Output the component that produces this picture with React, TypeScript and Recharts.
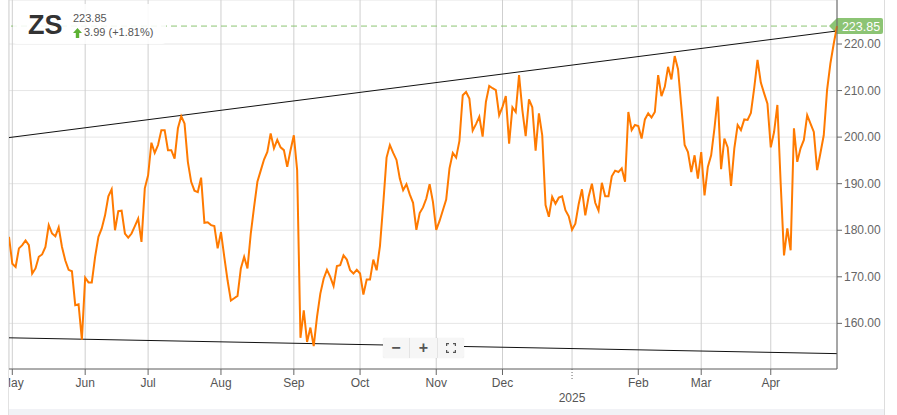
import { CartesianGrid, Line, LineChart, ReferenceLine, XAxis, YAxis } from "recharts";

const symbol = "ZS";
const lastPrice = 223.85;
const change = 3.99;
const changePct = 1.81;

// daily closes, May 2024 -> end of Apr 2025
const prices = [
  178.6, 172.8, 172.1, 176.1, 176.8, 177.8, 176.8, 170.7, 171.8, 174.3,
  174.8, 176.4, 181.1, 179.3, 178.7, 180.6, 176.4, 173.5, 171.5, 171.2,
  163.9, 164.1, 156.5, 169.8, 168.8, 168.8, 174.3, 178.6, 180.4, 183.2,
  187.3, 188.8, 180.0, 184.1, 184.2, 179.3, 178.4, 179.3, 180.9, 182.5,
  177.5, 189.0, 191.8, 198.8, 196.6, 198.3, 201.5, 201.5, 197.2, 197.2,
  195.4, 201.9, 204.5, 202.9, 194.7, 190.4, 188.5, 188.2, 191.3, 181.6,
  181.7, 181.1, 180.9, 176.1, 179.6, 174.3, 169.2, 164.9, 165.4, 165.9,
  171.8, 174.3, 171.8, 179.3, 185.0, 190.4, 192.8, 195.2, 196.8, 200.8,
  197.6, 199.4, 197.8, 197.2, 193.6, 197.2, 200.4, 192.9, 156.9, 162.8,
  156.0, 159.1, 155.1, 161.4, 166.4, 169.6, 171.5, 170.0, 168.0, 172.3,
  172.5, 174.6, 173.7, 171.4, 170.7, 171.5, 170.7, 166.2, 169.4, 169.4,
  173.7, 171.4, 176.6, 185.7, 195.6, 198.3, 196.6, 195.1, 191.1, 188.6,
  189.9, 187.7, 185.9, 180.1, 183.7, 184.9, 186.8, 189.9, 186.1, 180.1,
  182.0, 184.3, 186.6, 193.3, 196.6, 195.6, 199.2, 209.0, 209.7, 208.3,
  201.4, 202.8, 204.4, 200.1, 207.6, 211.0, 210.5, 210.1, 204.7, 206.5,
  208.8, 198.6, 206.4, 205.4, 213.3, 205.8, 200.2, 208.1, 206.4, 197.1,
  205.1, 200.4, 185.4, 182.9, 187.2, 185.7, 187.0, 187.3, 184.3, 183.0,
  180.1, 181.4, 185.6, 188.8, 183.2, 187.2, 190.0, 185.9, 184.2, 190.2,
  187.3, 187.3, 191.6, 192.8, 192.5, 193.3, 190.4, 205.4, 201.5, 202.6,
  202.4, 199.7, 203.8, 205.1, 204.2, 205.4, 213.3, 208.8, 210.8, 215.1,
  212.4, 217.4, 214.6, 206.5, 198.3, 196.8, 192.5, 196.1, 191.1, 196.8,
  187.5, 193.6, 196.1, 201.9, 208.7, 193.1, 199.7, 197.8, 189.5, 197.6,
  202.6, 201.5, 203.8, 203.7, 205.2, 210.5, 216.6, 211.7, 209.4, 207.2,
  197.8, 201.1, 206.9, 190.0, 174.6, 180.4, 175.7, 201.9, 194.7, 197.6,
  199.4, 204.7, 202.9, 201.1, 192.9, 196.6, 200.4, 210.1, 215.8, 220.0,
  223.85,
];

const monthTickIdx = [1, 23, 42, 64, 86, 106, 129, 149, 170, 190, 209, 230];
const monthLabels = ["May", "Jun", "Jul", "Aug", "Sep", "Oct", "Nov", "Dec", "", "Feb", "Mar", "Apr"];
const yearLabels = ["", "", "", "", "", "", "", "", "2025", "", "", ""];
const priceTicks = [160, 170, 180, 190, 200, 210, 220];

// channel lines: value at first and last day
const upperTrend = [199.9, 222.8];
const lowerTrend = [156.9, 153.5];

const data = prices.map((price, i) => ({ i, price }));
const lastIdx = prices.length - 1;

const FONT = '"Liberation Sans", Arial, sans-serif';

function MonthTick({ x, y, payload }: any) {
  const k = monthTickIdx.indexOf(payload.value);
  const label = monthLabels[k] ?? "";
  const year = yearLabels[k] ?? "";
  return (
    <g>
      <line
        x1={x}
        x2={x}
        y1={y - 8}
        y2={year ? y + 2 : y - 2}
        stroke="#666"
        strokeDasharray={year ? "1 2" : undefined}
      />
      {label && (
        <text x={x} y={y + 10} textAnchor="middle" fill="#555" fontSize={12} fontFamily={FONT}>
          {label}
        </text>
      )}
      {year && (
        <text x={x} y={y + 25} textAnchor="middle" fill="#555" fontSize={12} fontFamily={FONT}>
          {year}
        </text>
      )}
    </g>
  );
}

function PriceTick({ x, y, payload }: any) {
  return (
    <text x={x} y={y + 4} textAnchor="start" fill="#666" fontSize={12} fontFamily={FONT}>
      {Number(payload.value).toFixed(2)}
    </text>
  );
}

function PriceTag(props: any) {
  const vb = props.viewBox || {};
  const tip = vb.x + vb.width - 8;
  const cy = vb.y;
  const r = 2;
  const right = tip + 54;
  const d = `M${tip},${cy} L${tip + 8},${cy - 8} H${right - r} Q${right},${cy - 8} ${right},${cy - 8 + r} V${cy + 8 - r} Q${right},${cy + 8} ${right - r},${cy + 8} H${tip + 8} Z`;
  return (
    <g>
      <path d={d} fill="#8cc474" />
      <text x={tip + 32} y={cy + 4.5} textAnchor="middle" fill="#fff" fontSize={12.5} fontFamily={FONT}>
        {lastPrice.toFixed(2)}
      </text>
    </g>
  );
}

function UpArrow() {
  return (
    <svg width="9" height="10" viewBox="0 0 9 10" style={{ position: "absolute", left: 73, top: 28 }}>
      <path d="M4.5 0 L9 5 H6.2 V10 H2.8 V5 H0 Z" fill="#5cb133" />
    </svg>
  );
}

export default function App() {
  return (
    <div
      style={{
        position: "absolute",
        left: 0,
        top: 0,
        width: 897,
        height: 415,
        background: "#fff",
        fontFamily: FONT,
        overflow: "hidden",
      }}
    >
      <LineChart
        width={897}
        height={415}
        data={data}
        margin={{ top: 0, right: 10, bottom: 16, left: 9 }}
      >
        <CartesianGrid stroke="#e6e6e6" vertical={false} />
        <CartesianGrid stroke="#cfcfcf" horizontal={false} />
        <XAxis
          dataKey="i"
          type="number"
          domain={[0, lastIdx]}
          ticks={monthTickIdx}
          interval={0}
          tick={<MonthTick />}
          tickLine={false}
          tickSize={6}
          tickMargin={2}
          height={30}
          axisLine={{ stroke: "#666" }}
        />
        <YAxis
          orientation="right"
          type="number"
          domain={[150.2, 229.45]}
          ticks={priceTicks}
          tick={<PriceTick />}
          tickLine={{ stroke: "#666" }}
          tickSize={5}
          tickMargin={2}
          width={50}
          axisLine={{ stroke: "#666" }}
        />
        <ReferenceLine
          y={lastPrice}
          stroke="#8cc474"
          strokeDasharray="6 4"
          label={(p: any) => <PriceTag {...p} />}
        />
        <ReferenceLine
          segment={[
            { x: 0, y: upperTrend[0] },
            { x: lastIdx, y: upperTrend[1] },
          ]}
          stroke="#111"
          strokeWidth={1}
        />
        <ReferenceLine
          segment={[
            { x: 0, y: lowerTrend[0] },
            { x: lastIdx, y: lowerTrend[1] },
          ]}
          stroke="#111"
          strokeWidth={1}
        />
        <Line
          type="linear"
          dataKey="price"
          stroke="#ff7a00"
          strokeWidth={2}
          dot={false}
          activeDot={false}
          isAnimationActive={false}
        />
      </LineChart>

      {/* quote header */}
      <div
        style={{
          position: "absolute",
          left: 13,
          top: 4,
          width: 153,
          height: 40,
          background: "rgba(255,255,255,0.88)",
          borderRadius: 4,
        }}
      />
      <div style={{ position: "absolute", left: 0, top: 0, width: 170, height: 46 }}>
        <span
          style={{
            position: "absolute",
            left: 28,
            top: 10,
            fontSize: 27,
            fontWeight: 700,
            color: "#333",
            lineHeight: "30px",
          }}
        >
          {symbol}
        </span>
        <span style={{ position: "absolute", left: 73, top: 12, fontSize: 11, color: "#555", lineHeight: "13px" }}>
          {lastPrice.toFixed(2)}
        </span>
        <UpArrow />
        <span style={{ position: "absolute", left: 84, top: 26, fontSize: 11, color: "#555", lineHeight: "13px" }}>
          {change.toFixed(2)} (+{changePct.toFixed(2)}%)
        </span>
      </div>

      {/* zoom controls */}
      <div
        style={{
          position: "absolute",
          left: 383,
          top: 338,
          height: 20,
          display: "flex",
          background: "#f6f6f6",
          borderRadius: 2,
          boxShadow: "0 0 1px rgba(0,0,0,0.15)",
          color: "#555",
          fontSize: 16,
          fontWeight: 700,
          lineHeight: "20px",
        }}
      >
        <div style={{ width: 26, textAlign: "center" }}>−</div>
        <div style={{ width: 1, background: "#e4e4e4" }} />
        <div style={{ width: 27, textAlign: "center" }}>+</div>
        <div style={{ width: 1, background: "#e4e4e4" }} />
        <div style={{ width: 26, display: "flex", alignItems: "center", justifyContent: "center" }}>
          <svg width="10" height="10" viewBox="0 0 10 10">
            <path d="M0.5 3 V0.5 H3 M7 0.5 H9.5 V3 M9.5 7 V9.5 H7 M3 9.5 H0.5 V7" fill="none" stroke="#555" strokeWidth="1.4" />
          </svg>
        </div>
      </div>

      {/* frame; the left edge clips the first month label */}
      <div style={{ position: "absolute", left: 0, top: 370, width: 9, height: 45, background: "#fff" }} />
      <div style={{ position: "absolute", left: 8, top: 0, width: 1, height: 415, background: "#e2e2e2" }} />
      <div style={{ position: "absolute", left: 884, top: 0, width: 1, height: 415, background: "#dddddd" }} />
      <div style={{ position: "absolute", left: 9, top: 409, width: 875, height: 6, background: "#f1f2f6" }} />
    </div>
  );
}
